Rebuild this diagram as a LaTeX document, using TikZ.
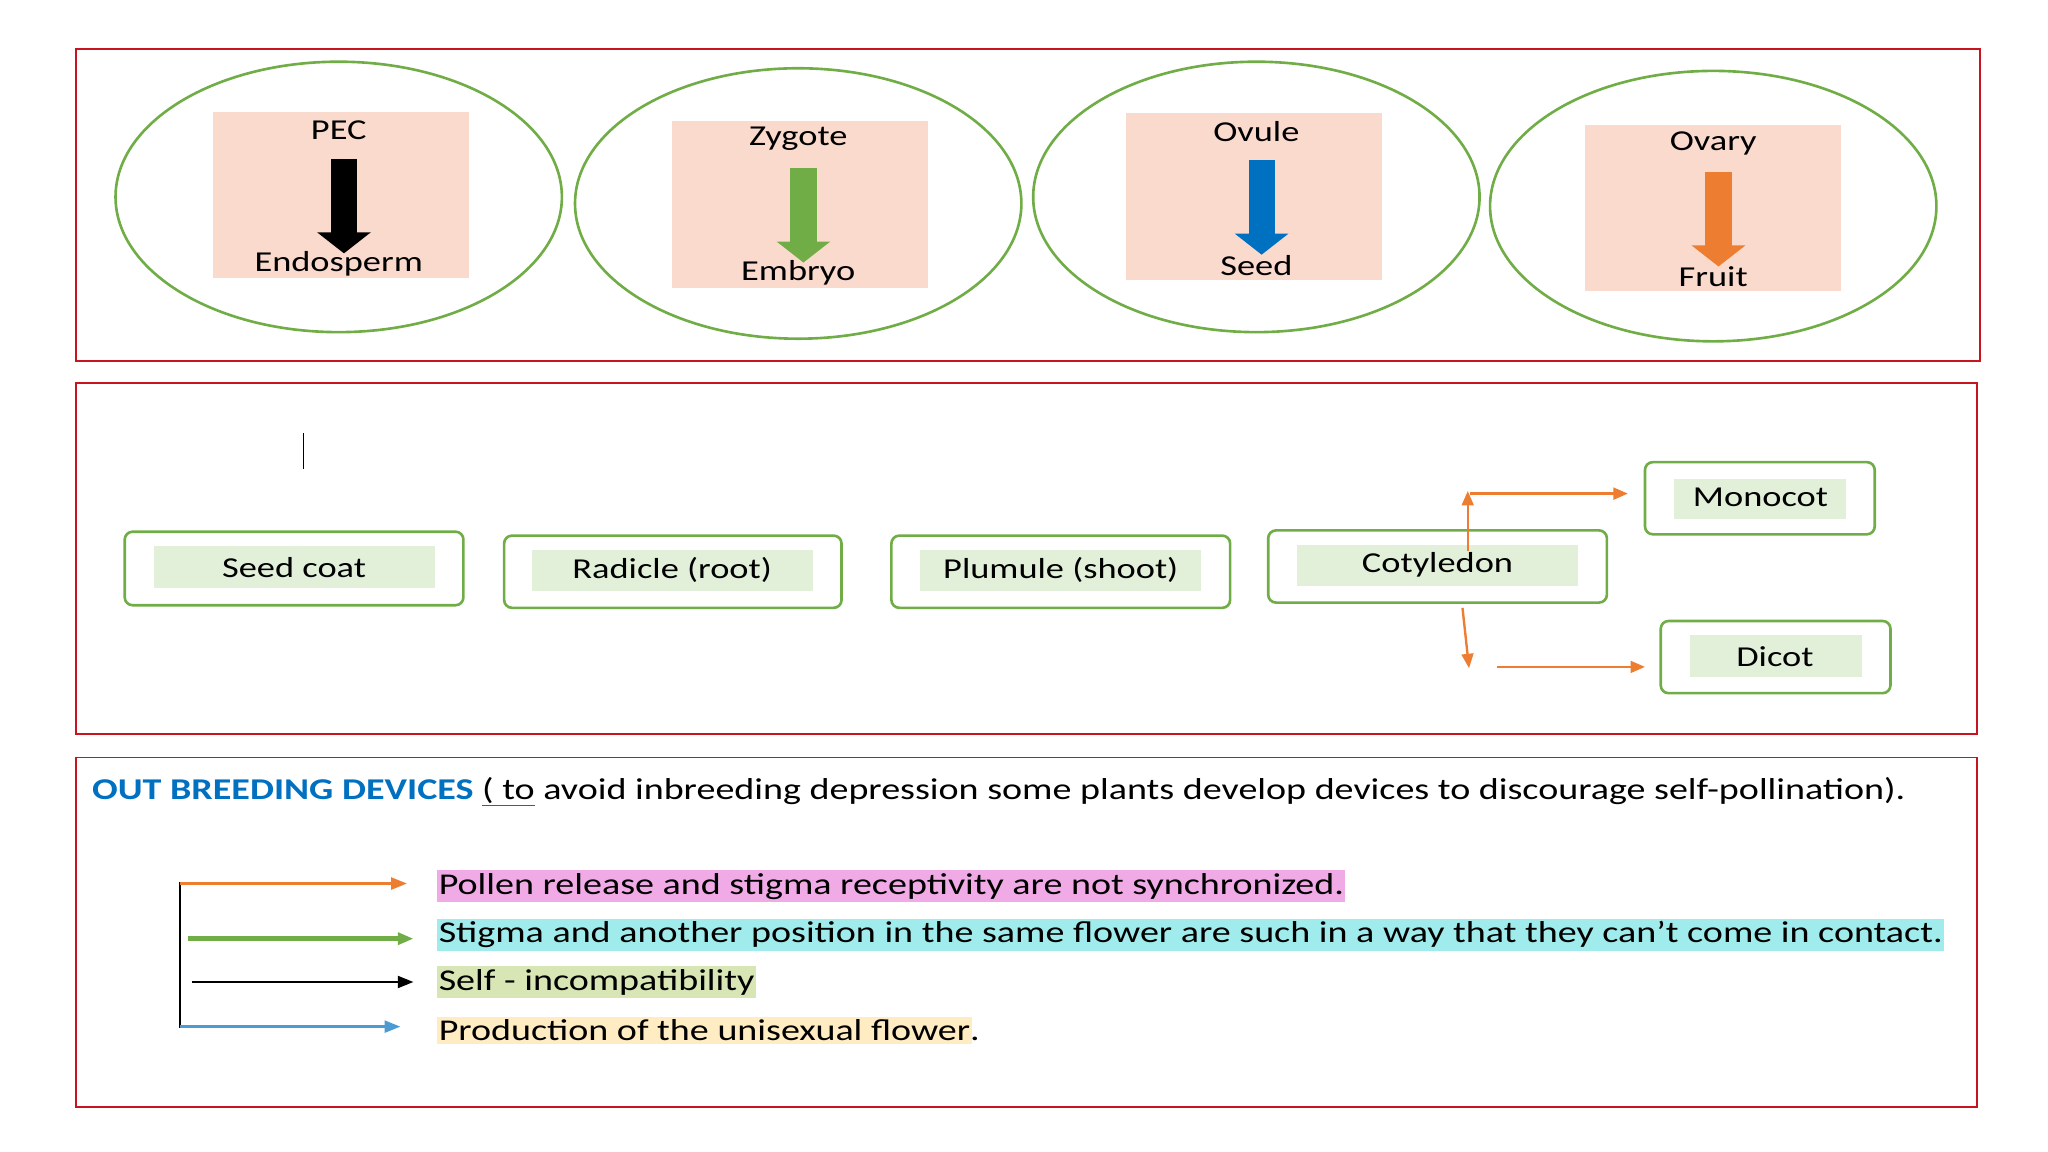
\documentclass[tikz,border=0pt]{standalone}
\usepackage{fontspec}
\setmainfont{Carlito}[FakeStretch=1.26]
\usetikzlibrary{arrows.meta}
\definecolor{redb}{RGB}{200,20,30}
\definecolor{ellg}{RGB}{112,173,71}
\definecolor{pinkb}{RGB}{250,218,205}
\definecolor{boxg}{RGB}{226,240,217}
\definecolor{orng}{RGB}{237,125,49}
\definecolor{bluet}{RGB}{0,112,192}
\definecolor{hpink}{RGB}{240,170,230}
\definecolor{hcyan}{RGB}{160,235,235}
\definecolor{hgreen}{RGB}{215,230,180}
\definecolor{hpeach}{RGB}{255,236,195}
\tikzset{
 frame/.style={draw=redb,line width=1.5pt},
 ell/.style={draw=ellg,line width=2pt},
 pk/.style={fill=pinkb,draw=none},
 lbl/.style={font=\fontsize{22}{24}\selectfont},
 fat/.style={-{Triangle[width=40pt,length=16pt]},line width=20pt},
 rbox/.style={draw=ellg,line width=2pt,rounded corners=6pt},
 ibox/.style={fill=boxg,draw=none},
 oa/.style={draw=orng,line width=1.8pt,-{Triangle[width=9pt,length=11pt]}},
 la/.style={line width=2pt,-{Triangle[width=9pt,length=12pt]}},
 hl/.style={anchor=west,inner xsep=1pt,inner ysep=2pt,font=\fontsize{23}{25}\selectfont}
}
\begin{document}
\begin{tikzpicture}[x=1pt,y=-1pt]
\useasboundingbox (0,0) rectangle (1560,877.5);
% box 1
\draw[frame] (58,37) rectangle (1508,275);
\foreach \cx/\cy/\px/\py/\t/\b/\c [count=\i] in {258/150/162/85/PEC/Endosperm/black,608/155/512/92/Zygote/Embryo/ellg,957/150/858/86/Ovule/Seed/bluet,1305/157/1207/95/Ovary/Fruit/orng}{
 \draw[ell] (\cx,\cy) ellipse [x radius=170,y radius=103];
 \fill[pk] (\px,\py) rectangle ++(195,127);
 \node[lbl] (t\i) at (\cx,\py+14) {\t};
 \node[lbl] (b\i) at (\cx,\py+116) {\b};
 \draw[fat,draw=\c,fill=\c] (\cx+4,\py+36) -- (\cx+4,\py+108);
}
% box 2
\draw[frame] (58,292) rectangle (1506,559);
\draw[line width=1pt] (231,330) -- (231,357);
\draw[rbox] (95,405) rectangle (353,461); \fill[ibox] (117,416) rectangle (331,448);
\node[lbl] (sc) at (224,432) {Seed coat};
\draw[rbox] (384,408) rectangle (641,463); \fill[ibox] (405,419) rectangle (619,450);
\node[lbl] (rad) at (512,434) {Radicle (root)};
\draw[rbox] (679,408) rectangle (937,463); \fill[ibox] (701,419) rectangle (915,450);
\node[lbl] (plu) at (808,434) {Plumule (shoot)};
\draw[rbox] (966,404) rectangle (1224,459); \fill[ibox] (988,415) rectangle (1202,446);
\node[lbl] (cot) at (1095,430) {Cotyledon};
\draw[rbox] (1253,352) rectangle (1428,407); \fill[ibox] (1275,365) rectangle (1406,395);
\node[lbl] (mon) at (1341,379) {Monocot};
\draw[rbox] (1265,473) rectangle (1440,528); \fill[ibox] (1287,484) rectangle (1418,516);
\node[lbl] (dic) at (1352,500) {Dicot};
\coordinate (u0) at (1118,420); \coordinate (u1) at (1118,374);
\coordinate (r0) at (1120,376); \coordinate (r1) at (1240,376);
\coordinate (d0) at (1114,463); \coordinate (d1) at (1119,509);
\coordinate (e0) at (1140,508); \coordinate (e1) at (1253,508);
\draw[oa] (u0) -- (u1); \draw[oa] (r0) -- (r1);
\draw[oa] (d0) -- (d1); \draw[oa] (e0) -- (e1);
% box 3
\draw[frame] (58,577) rectangle (1506,843);
\node[anchor=west,inner sep=0pt,font=\fontsize{23}{25}\selectfont] (title) at (70,603)
 {\textcolor{bluet}{\textbf{OUT BREEDING DEVICES}} \textcolor{bluet}{\underline{\textcolor{black}{( to}}} avoid inbreeding depression some plants develop devices to discourage self-pollination).};
\coordinate (vt) at (137,672); \coordinate (vb) at (137,783);
\draw[line width=2pt] (vt) -- (vb);
\node[hl,fill=hpink] (p1) at (333,675) {Pollen release and stigma receptivity are not synchronized.};
\node[hl,fill=hcyan] (p2) at (333,712) {Stigma and another position in the same flower are such in a way that they can’t come in contact.};
\node[hl,fill=hgreen] (p3) at (333,748) {Self - incompatibility};
\node[hl,fill=hpeach] (p4) at (333,785) {Production of the unisexual flower\rlap{.}};
\coordinate (a1) at (137,673); \coordinate (a2) at (143,715); \coordinate (a3) at (146,748); \coordinate (a4) at (137,782);
\draw[la,draw=orng,fill=orng] (a1) -- (310,673);
\draw[la,draw=ellg,fill=ellg,line width=4pt] (a2) -- (315,715);
\draw[la,draw=black] (a3) -- (315,748);
\draw[la,draw=bluet!70!white,fill=bluet!70!white] (a4) -- (305,782);
\end{tikzpicture}
\end{document}
